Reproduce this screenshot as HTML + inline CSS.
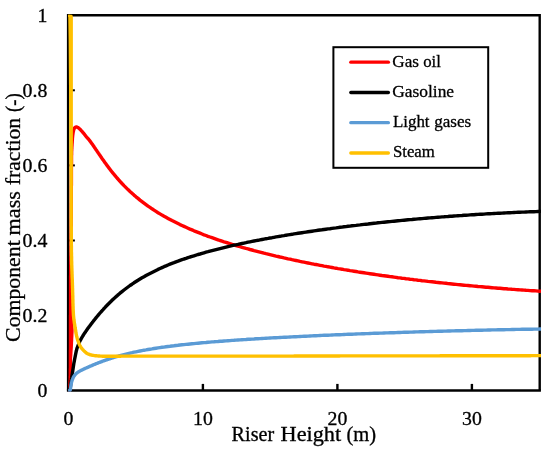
<!DOCTYPE html>
<html lang="en"><head><meta charset="utf-8"><title>Component mass fraction vs riser height</title>
<style>html,body{margin:0;padding:0;background:#fff}body{width:550px;height:451px;overflow:hidden}svg{display:block}text{font-family:"Liberation Serif",serif;fill:#000}</style></head><body>
<svg width="550" height="451" viewBox="0 0 550 451">
<rect width="550" height="451" fill="#fff"/>
<path d="M68.1,390.6 L68.1,15.25 L539.7,15.25 L539.7,390.6" fill="none" stroke="#000" stroke-width="2.4" stroke-linejoin="miter"/>
<path d="M66.9,390.55 L540.9,390.55" fill="none" stroke="#000" stroke-width="2.5"/>
<line x1="202.9" y1="390.6" x2="202.9" y2="383.9" stroke="#000" stroke-width="2.4"/>
<line x1="337.4" y1="390.6" x2="337.4" y2="383.9" stroke="#000" stroke-width="2.4"/>
<line x1="471.9" y1="390.6" x2="471.9" y2="383.9" stroke="#000" stroke-width="2.4"/>
<line x1="68.1" y1="315.5" x2="74.9" y2="315.5" stroke="#000" stroke-width="2"/>
<line x1="68.1" y1="240.5" x2="74.9" y2="240.5" stroke="#000" stroke-width="2"/>
<line x1="68.1" y1="165.4" x2="74.9" y2="165.4" stroke="#000" stroke-width="2"/>
<line x1="68.1" y1="90.3" x2="74.9" y2="90.3" stroke="#000" stroke-width="2"/>
<clipPath id="pc"><rect x="66.9" y="14.8" width="474.2" height="377"/></clipPath><g clip-path="url(#pc)">
<polygon points="69,300 71.6,300 73.7,330 73.0,345 71.8,362 70.4,380 69.5,389 69,389" fill="#ff0000"/>
<path d="M68.1,390.6 L68.7,390.5 L69.3,390.4 L69.6,390.2 L69.6,390.0 L69.7,389.8 L69.7,389.6 L69.7,389.4 L69.7,389.2 L69.8,388.9 L69.8,388.6 L69.8,388.4 L69.8,388.1 L69.9,387.7 L69.9,387.4 L69.9,387.1 L69.9,386.7 L69.9,386.4 L70.0,386.0 L70.0,385.6 L70.0,385.2 L70.0,384.8 L70.0,384.4 L70.1,383.9 L70.1,383.5 L70.1,383.0 L70.1,382.6 L70.1,382.1 L70.1,381.6 L70.1,381.1 L70.2,380.6 L70.2,380.1 L70.2,379.6 L70.2,379.1 L70.2,378.6 L70.2,378.0 L70.2,377.5 L70.2,377.0 L70.2,376.4 L70.3,375.9 L70.3,375.3 L70.3,374.7 L70.3,374.1 L70.3,373.6 L70.3,373.0 L70.3,372.4 L70.3,371.8 L70.3,371.2 L70.3,370.6 L70.3,370.0 L70.3,369.4 L70.3,368.8 L70.4,368.2 L70.4,367.6 L70.4,367.0 L70.4,366.4 L70.4,365.8 L70.4,365.2 L70.4,364.6 L70.4,364.0 L70.4,363.3 L70.4,362.7 L70.4,362.1 L70.4,361.5 L70.4,360.9 L70.4,360.3 L70.4,359.7 L70.4,359.1 L70.4,358.5 L70.4,358.0 L70.4,357.4 L70.4,356.8 L70.4,356.2 L70.4,355.7 L70.4,355.1 L70.4,354.5 L70.4,354.0 L70.4,353.4 L70.4,352.9 L70.4,352.3 L70.4,351.8 L70.4,351.3 L70.4,350.8 L70.4,350.3 L70.5,349.8 L70.5,349.3 L70.5,348.8 L70.5,348.3 L70.5,347.8 L70.5,347.3 L70.5,346.8 L70.5,346.3 L70.5,345.8 L70.5,345.3 L70.5,344.8 L70.5,344.3 L70.5,343.8 L70.5,343.3 L70.5,342.8 L70.5,342.3 L70.5,341.8 L70.5,341.3 L70.5,340.8 L70.5,340.3 L70.5,339.8 L70.5,339.3 L70.5,338.8 L70.5,338.3 L70.5,337.8 L70.5,337.3 L70.5,336.8 L70.5,336.3 L70.5,335.8 L70.5,335.3 L70.5,334.8 L70.5,334.3 L70.5,333.8 L70.5,333.3 L70.5,332.8 L70.5,332.3 L70.5,331.8 L70.5,331.3 L70.5,330.8 L70.5,330.3 L70.5,329.8 L70.5,329.3 L70.5,328.8 L70.5,328.3 L70.5,327.8 L70.5,327.3 L70.5,326.8 L70.5,326.3 L70.5,325.8 L70.5,325.3 L70.5,324.8 L70.5,324.3 L70.5,323.8 L70.5,323.3 L70.5,322.8 L70.5,322.3 L70.5,321.8 L70.5,321.3 L70.5,320.8 L70.5,320.3 L70.5,319.8 L70.5,319.3 L70.5,318.8 L70.5,318.3 L70.5,317.8 L70.5,317.3 L70.5,316.8 L70.5,316.3 L70.5,315.8 L70.5,315.3 L70.6,314.8 L70.6,314.3 L70.6,313.8 L70.6,313.3 L70.6,312.8 L70.6,312.3 L70.6,311.8 L70.6,311.3 L70.6,310.8 L70.6,310.3 L70.6,309.8 L70.6,309.3 L70.6,308.8 L70.6,308.3 L70.6,307.8 L70.6,307.3 L70.6,306.8 L70.6,306.3 L70.6,305.8 L70.6,305.3 L70.6,304.8 L70.6,304.3 L70.6,303.8 L70.6,303.3 L70.6,302.8 L70.6,302.3 L70.6,301.8 L70.6,301.3 L70.6,300.8 L70.6,300.3 L70.6,299.8 L70.6,299.3 L70.6,298.8 L70.6,298.3 L70.6,297.8 L70.6,297.3 L70.6,296.8 L70.6,296.3 L70.6,295.8 L70.6,295.3 L70.6,294.8 L70.6,294.3 L70.6,293.8 L70.6,293.3 L70.6,292.8 L70.6,292.3 L70.6,291.8 L70.6,291.3 L70.6,290.8 L70.6,290.3 L70.6,289.8 L70.6,289.3 L70.6,288.8 L70.6,288.3 L70.6,287.8 L70.6,287.3 L70.6,286.8 L70.6,286.3 L70.6,285.8 L70.6,285.3 L70.6,284.8 L70.6,284.3 L70.6,283.8 L70.6,283.3 L70.6,282.8 L70.6,282.3 L70.6,281.8 L70.6,281.3 L70.6,280.8 L70.6,280.3 L70.6,279.8 L70.6,279.3 L70.6,278.8 L70.6,278.3 L70.6,277.8 L70.6,277.3 L70.6,276.8 L70.6,276.3 L70.6,275.8 L70.7,275.3 L70.7,274.8 L70.7,274.3 L70.7,273.8 L70.7,273.3 L70.7,272.8 L70.7,272.3 L70.7,271.8 L70.7,271.3 L70.7,270.8 L70.7,270.3 L70.7,269.8 L70.7,269.3 L70.7,268.8 L70.7,268.3 L70.7,267.8 L70.7,267.3 L70.7,266.8 L70.7,266.3 L70.7,265.8 L70.7,265.3 L70.7,264.8 L70.8,264.3 L70.8,263.8 L70.8,263.3 L70.8,262.8 L70.8,262.3 L70.8,261.8 L70.8,261.3 L70.8,260.8 L70.8,260.3 L70.8,259.8 L70.8,259.3 L70.8,258.8 L70.8,258.3 L70.8,257.8 L70.8,257.3 L70.8,256.8 L70.8,256.3 L70.8,255.8 L70.9,255.3 L70.9,254.8 L70.9,254.3 L70.9,253.8 L70.9,253.3 L70.9,252.8 L70.9,252.3 L70.9,251.8 L70.9,251.3 L70.9,250.8 L70.9,250.3 L70.9,249.8 L70.9,249.3 L70.9,248.8 L70.9,248.3 L70.9,247.8 L70.9,247.3 L70.9,246.8 L70.9,246.3 L71.0,245.8 L71.0,245.3 L71.0,244.8 L71.0,244.3 L71.0,243.8 L71.0,243.3 L71.0,242.8 L71.0,242.3 L71.0,241.8 L71.0,241.3 L71.0,240.8 L71.0,240.3 L71.0,239.8 L71.0,239.3 L71.0,238.8 L71.0,238.3 L71.0,237.8 L71.0,237.3 L71.0,236.8 L71.0,236.3 L71.0,235.8 L71.0,235.3 L71.0,234.8 L71.0,234.3 L71.0,233.8 L71.0,233.3 L71.1,232.8 L71.1,232.3 L71.1,231.8 L71.1,231.3 L71.1,230.8 L71.1,230.3 L71.1,229.8 L71.1,229.3 L71.1,228.8 L71.1,228.3 L71.1,227.8 L71.1,227.3 L71.1,226.8 L71.1,226.3 L71.1,225.8 L71.1,225.3 L71.1,224.8 L71.1,224.3 L71.1,223.8 L71.1,223.3 L71.1,222.8 L71.1,222.3 L71.1,221.8 L71.1,221.3 L71.1,220.8 L71.1,220.3 L71.1,219.8 L71.1,219.3 L71.1,218.8 L71.2,218.3 L71.2,217.8 L71.2,217.3 L71.2,216.8 L71.2,216.3 L71.2,215.8 L71.2,215.3 L71.2,214.8 L71.2,214.3 L71.2,213.8 L71.2,213.3 L71.2,212.8 L71.2,212.3 L71.2,211.8 L71.2,211.3 L71.2,210.8 L71.2,210.3 L71.2,209.8 L71.2,209.3 L71.2,208.8 L71.2,208.3 L71.2,207.8 L71.2,207.3 L71.2,206.8 L71.2,206.3 L71.2,205.8 L71.2,205.3 L71.2,204.8 L71.2,204.3 L71.2,203.8 L71.2,203.3 L71.3,202.8 L71.3,202.3 L71.3,201.8 L71.3,201.3 L71.3,200.8 L71.3,200.3 L71.3,199.8 L71.3,199.3 L71.3,198.8 L71.3,198.3 L71.3,197.8 L71.3,197.3 L71.3,196.8 L71.3,196.3 L71.3,195.8 L71.3,195.3 L71.3,194.8 L71.3,194.3 L71.3,193.8 L71.3,193.3 L71.3,192.8 L71.3,192.3 L71.3,191.8 L71.3,191.3 L71.3,190.8 L71.3,190.3 L71.3,189.8 L71.3,189.3 L71.3,188.8 L71.3,188.3 L71.3,187.8 L71.3,187.3 L71.3,186.8 L71.3,186.3 L71.3,185.8 L71.4,185.3 L71.4,184.8 L71.4,184.3 L71.4,183.8 L71.4,183.3 L71.4,182.8 L71.4,182.3 L71.4,181.8 L71.4,181.3 L71.4,180.8 L71.4,180.3 L71.4,179.8 L71.4,179.3 L71.4,178.8 L71.4,178.3 L71.4,177.8 L71.4,177.3 L71.4,176.8 L71.4,176.3 L71.4,175.8 L71.4,175.3 L71.4,174.8 L71.4,174.3 L71.4,173.8 L71.4,173.3 L71.4,172.8 L71.4,172.3 L71.4,171.8 L71.4,171.3 L71.4,170.8 L71.4,170.3 L71.4,169.8 L71.4,169.3 L71.4,168.8 L71.4,168.3 L71.4,167.8 L71.4,167.3 L71.4,166.8 L71.4,166.3 L71.4,165.8 L71.4,165.3 L71.5,164.8 L71.5,164.3 L71.5,163.8 L71.5,163.3 L71.5,162.8 L71.5,162.3 L71.5,161.8 L71.5,161.3 L71.5,160.8 L71.5,160.3 L71.5,159.8 L71.5,159.3 L71.5,158.8 L71.5,158.3 L71.5,157.8 L71.5,157.3 L71.5,156.8 L71.5,156.3 L71.5,155.8 L71.5,155.3 L71.6,154.8 L71.6,154.3 L71.6,153.8 L71.6,153.3 L71.6,152.8 L71.6,152.3 L71.6,151.8 L71.6,151.3 L71.7,150.8 L71.7,150.3 L71.7,149.8 L71.7,149.3 L71.8,148.8 L71.8,148.3 L71.8,147.8 L71.8,147.3 L71.9,146.8 L71.9,146.3 L71.9,145.8 L72.0,145.3 L72.0,144.8 L72.0,144.3 L72.1,143.8 L72.1,143.3 L72.1,142.8 L72.2,142.3 L72.2,141.8 L72.2,141.3 L72.3,140.8 L72.3,140.3 L72.3,139.8 L72.4,139.3 L72.4,138.8 L72.4,138.3 L72.5,137.8 L72.5,137.3 L72.6,136.8 L72.6,136.3 L72.7,135.8 L72.7,135.3 L72.8,134.8 L72.9,134.3 L72.9,133.8 L73.0,133.3 L73.1,132.8 L73.2,132.3 L73.2,131.8 L73.3,131.3 L73.5,130.8 L73.6,130.3 L73.7,129.8 L73.9,129.4 L74.1,128.9 L74.3,128.5 L74.5,128.0 L74.9,127.6 L75.2,127.3 L75.7,127.1 L76.2,127.0 L76.7,127.0 L77.1,127.1 L77.6,127.4 L78.0,127.6 L78.4,127.9 L78.8,128.2 L79.2,128.5 L79.6,128.9 L79.9,129.2 L80.3,129.6 L80.7,129.9 L81.0,130.3 L81.3,130.7 L81.7,131.0 L82.0,131.4 L82.3,131.8 L82.7,132.2 L83.0,132.5 L83.3,132.9 L83.6,133.3 L84.0,133.7 L84.3,134.1 L84.6,134.5 L84.9,134.9 L85.2,135.3 L85.5,135.7 L85.8,136.1 L86.1,136.5 L86.4,136.9 L86.7,137.2 L87.1,137.6 L87.4,138.0 L87.7,138.3 L88.2,138.8 L88.7,139.4 L89.2,140.0 L89.7,140.7 L90.2,141.3 L90.7,142.0 L91.2,142.7 L91.7,143.4 L92.2,144.1 L92.7,144.8 L93.2,145.5 L93.7,146.2 L94.2,147.0 L94.7,147.7 L95.2,148.4 L95.7,149.2 L96.2,149.9 L96.7,150.6 L97.2,151.4 L97.7,152.1 L98.2,152.9 L98.7,153.6 L99.2,154.3 L99.7,155.1 L100.2,155.8 L100.7,156.5 L101.2,157.2 L101.7,158.0 L102.2,158.7 L102.7,159.4 L103.2,160.1 L103.7,160.8 L104.2,161.5 L104.7,162.2 L105.2,162.9 L105.7,163.6 L106.2,164.3 L106.7,165.0 L107.2,165.7 L107.7,166.3 L108.2,167.0 L108.7,167.7 L109.2,168.3 L109.7,169.0 L110.2,169.6 L110.7,170.3 L111.2,170.9 L111.7,171.6 L112.2,172.2 L112.7,172.8 L113.2,173.4 L113.7,174.0 L114.2,174.6 L114.7,175.2 L115.2,175.8 L115.7,176.4 L116.2,177.0 L116.7,177.6 L117.2,178.2 L117.7,178.8 L118.2,179.3 L118.7,179.9 L119.2,180.5 L119.7,181.0 L120.0,181.3 L122.0,183.5 L124.0,185.6 L126.0,187.6 L128.0,189.6 L130.0,191.5 L132.0,193.3 L134.0,195.1 L136.0,196.8 L138.0,198.4 L140.0,200.1 L142.0,201.6 L144.0,203.1 L146.0,204.6 L148.0,206.1 L150.0,207.4 L152.0,208.8 L154.0,210.1 L156.0,211.4 L158.0,212.7 L160.0,213.9 L162.0,215.1 L164.0,216.2 L166.0,217.3 L168.0,218.4 L170.0,219.5 L172.0,220.6 L174.0,221.6 L176.0,222.6 L178.0,223.6 L180.0,224.6 L182.0,225.5 L184.0,226.4 L186.0,227.3 L188.0,228.2 L190.0,229.1 L192.0,229.9 L194.0,230.8 L196.0,231.6 L198.0,232.4 L200.0,233.2 L202.0,234.0 L204.0,234.8 L206.0,235.5 L208.0,236.3 L210.0,237.0 L212.0,237.7 L214.0,238.4 L216.0,239.1 L218.0,239.8 L220.0,240.5 L222.0,241.1 L224.0,241.8 L226.0,242.4 L228.0,243.0 L230.0,243.7 L232.0,244.3 L234.0,244.9 L236.0,245.5 L238.0,246.1 L240.0,246.7 L242.0,247.3 L244.0,247.8 L246.0,248.4 L248.0,248.9 L250.0,249.5 L252.0,250.0 L254.0,250.6 L256.0,251.1 L258.0,251.6 L260.0,252.1 L262.0,252.6 L264.0,253.2 L266.0,253.7 L268.0,254.1 L270.0,254.6 L272.0,255.1 L274.0,255.6 L276.0,256.1 L278.0,256.5 L280.0,257.0 L282.0,257.4 L284.0,257.9 L286.0,258.3 L288.0,258.8 L290.0,259.2 L292.0,259.7 L294.0,260.1 L296.0,260.5 L298.0,260.9 L300.0,261.4 L302.0,261.8 L304.0,262.2 L306.0,262.6 L308.0,263.0 L310.0,263.4 L312.0,263.8 L314.0,264.2 L316.0,264.5 L318.0,264.9 L320.0,265.3 L322.0,265.7 L324.0,266.1 L326.0,266.4 L328.0,266.8 L330.0,267.1 L332.0,267.5 L334.0,267.9 L336.0,268.2 L338.0,268.6 L340.0,268.9 L342.0,269.2 L344.0,269.6 L346.0,269.9 L348.0,270.2 L350.0,270.6 L352.0,270.9 L354.0,271.2 L356.0,271.5 L358.0,271.9 L360.0,272.2 L362.0,272.5 L364.0,272.8 L366.0,273.1 L368.0,273.4 L370.0,273.7 L372.0,274.0 L374.0,274.3 L376.0,274.6 L378.0,274.9 L380.0,275.2 L382.0,275.5 L384.0,275.7 L386.0,276.0 L388.0,276.3 L390.0,276.6 L392.0,276.8 L394.0,277.1 L396.0,277.4 L398.0,277.7 L400.0,277.9 L402.0,278.2 L404.0,278.4 L406.0,278.7 L408.0,278.9 L410.0,279.2 L412.0,279.4 L414.0,279.7 L416.0,279.9 L418.0,280.2 L420.0,280.4 L422.0,280.7 L424.0,280.9 L426.0,281.1 L428.0,281.4 L430.0,281.6 L432.0,281.8 L434.0,282.0 L436.0,282.3 L438.0,282.5 L440.0,282.7 L442.0,282.9 L444.0,283.1 L446.0,283.3 L448.0,283.6 L450.0,283.8 L452.0,284.0 L454.0,284.2 L456.0,284.4 L458.0,284.6 L460.0,284.8 L462.0,285.0 L464.0,285.2 L466.0,285.4 L468.0,285.5 L470.0,285.7 L472.0,285.9 L474.0,286.1 L476.0,286.3 L478.0,286.5 L480.0,286.6 L482.0,286.8 L484.0,287.0 L486.0,287.2 L488.0,287.3 L490.0,287.5 L492.0,287.7 L494.0,287.9 L496.0,288.0 L498.0,288.2 L500.0,288.3 L502.0,288.5 L504.0,288.7 L506.0,288.8 L508.0,289.0 L510.0,289.1 L512.0,289.3 L514.0,289.4 L516.0,289.6 L518.0,289.7 L520.0,289.9 L522.0,290.0 L524.0,290.1 L526.0,290.3 L528.0,290.4 L530.0,290.6 L532.0,290.7 L534.0,290.8 L536.0,290.9 L538.0,291.1 L540.0,291.2 L541.0,291.3" fill="none" stroke="#ff0000" stroke-width="3.4" stroke-linejoin="round" stroke-linecap="butt"/>
<path d="M68.1,390.6 L69.0,390.0 L69.7,389.3 L70.0,388.6 L70.2,387.7 L70.4,386.7 L70.6,385.7 L70.7,384.7 L70.8,383.6 L70.9,382.5 L71.1,381.5 L71.2,380.5 L71.4,379.5 L71.5,378.5 L71.7,377.5 L71.8,376.5 L72.0,375.6 L72.1,374.6 L72.3,373.6 L72.4,372.6 L72.6,371.6 L72.8,370.6 L72.9,369.6 L73.1,368.6 L73.2,367.6 L73.4,366.7 L73.5,365.7 L73.7,364.7 L73.8,363.7 L74.0,362.7 L74.2,361.7 L74.4,360.7 L74.5,359.8 L74.7,358.8 L74.9,357.8 L75.1,356.8 L75.3,355.8 L75.5,354.9 L75.7,353.9 L75.9,352.9 L76.1,351.9 L76.3,350.9 L76.6,350.0 L76.8,349.0 L77.1,348.0 L77.5,347.1 L77.6,346.7 L78.1,345.3 L78.6,344.1 L79.1,342.9 L79.6,341.8 L80.1,340.8 L80.6,339.8 L81.1,338.9 L81.6,338.0 L82.1,337.1 L82.6,336.3 L83.1,335.5 L83.6,334.7 L84.1,333.9 L84.6,333.1 L85.1,332.4 L85.6,331.7 L86.1,330.9 L86.6,330.2 L87.1,329.5 L87.6,328.8 L88.1,328.1 L88.6,327.4 L89.1,326.7 L89.6,326.1 L90.1,325.4 L90.6,324.7 L91.1,324.1 L91.6,323.4 L92.1,322.8 L92.6,322.1 L93.1,321.5 L93.6,320.8 L94.1,320.2 L94.6,319.6 L95.1,318.9 L95.6,318.3 L96.1,317.7 L96.6,317.1 L97.1,316.5 L97.6,315.9 L98.1,315.3 L98.6,314.7 L99.1,314.1 L99.6,313.5 L100.1,312.9 L100.6,312.4 L101.1,311.8 L101.6,311.2 L102.1,310.7 L102.6,310.1 L103.1,309.6 L103.6,309.0 L104.1,308.5 L104.6,307.9 L105.1,307.4 L105.6,306.8 L106.1,306.3 L106.6,305.8 L107.1,305.3 L107.6,304.8 L108.1,304.2 L108.6,303.7 L109.1,303.2 L109.6,302.7 L110.1,302.2 L110.6,301.7 L111.1,301.3 L111.6,300.8 L112.1,300.3 L112.6,299.8 L113.1,299.3 L113.6,298.9 L114.1,298.4 L114.6,298.0 L115.1,297.5 L115.6,297.0 L116.1,296.6 L116.6,296.2 L117.1,295.7 L117.6,295.3 L118.1,294.8 L118.6,294.4 L119.1,294.0 L119.6,293.6 L120.0,293.2 L122.0,291.6 L124.0,290.0 L126.0,288.5 L128.0,287.0 L130.0,285.5 L132.0,284.2 L134.0,282.8 L136.0,281.5 L138.0,280.2 L140.0,279.0 L142.0,277.8 L144.0,276.7 L146.0,275.5 L148.0,274.4 L150.0,273.4 L152.0,272.4 L154.0,271.4 L156.0,270.4 L158.0,269.4 L160.0,268.5 L162.0,267.6 L164.0,266.7 L166.0,265.9 L168.0,265.0 L170.0,264.2 L172.0,263.4 L174.0,262.7 L176.0,261.9 L178.0,261.2 L180.0,260.4 L182.0,259.7 L184.0,259.0 L186.0,258.4 L188.0,257.7 L190.0,257.0 L192.0,256.4 L194.0,255.8 L196.0,255.2 L198.0,254.5 L200.0,254.0 L202.0,253.4 L204.0,252.8 L206.0,252.2 L208.0,251.7 L210.0,251.1 L212.0,250.6 L214.0,250.1 L216.0,249.6 L218.0,249.1 L220.0,248.6 L222.0,248.1 L224.0,247.6 L226.0,247.1 L228.0,246.6 L230.0,246.2 L232.0,245.7 L234.0,245.2 L236.0,244.8 L238.0,244.4 L240.0,243.9 L242.0,243.5 L244.0,243.1 L246.0,242.7 L248.0,242.2 L250.0,241.8 L252.0,241.4 L254.0,241.0 L256.0,240.6 L258.0,240.3 L260.0,239.9 L262.0,239.5 L264.0,239.1 L266.0,238.7 L268.0,238.4 L270.0,238.0 L272.0,237.7 L274.0,237.3 L276.0,236.9 L278.0,236.6 L280.0,236.3 L282.0,235.9 L284.0,235.6 L286.0,235.2 L288.0,234.9 L290.0,234.6 L292.0,234.3 L294.0,233.9 L296.0,233.6 L298.0,233.3 L300.0,233.0 L302.0,232.7 L304.0,232.4 L306.0,232.1 L308.0,231.8 L310.0,231.5 L312.0,231.2 L314.0,230.9 L316.0,230.6 L318.0,230.3 L320.0,230.0 L322.0,229.8 L324.0,229.5 L326.0,229.2 L328.0,228.9 L330.0,228.7 L332.0,228.4 L334.0,228.1 L336.0,227.9 L338.0,227.6 L340.0,227.3 L342.0,227.1 L344.0,226.8 L346.0,226.6 L348.0,226.3 L350.0,226.1 L352.0,225.8 L354.0,225.6 L356.0,225.4 L358.0,225.1 L360.0,224.9 L362.0,224.6 L364.0,224.4 L366.0,224.2 L368.0,224.0 L370.0,223.7 L372.0,223.5 L374.0,223.3 L376.0,223.1 L378.0,222.8 L380.0,222.6 L382.0,222.4 L384.0,222.2 L386.0,222.0 L388.0,221.8 L390.0,221.6 L392.0,221.4 L394.0,221.2 L396.0,221.0 L398.0,220.8 L400.0,220.6 L402.0,220.4 L404.0,220.2 L406.0,220.0 L408.0,219.8 L410.0,219.6 L412.0,219.5 L414.0,219.3 L416.0,219.1 L418.0,218.9 L420.0,218.7 L422.0,218.6 L424.0,218.4 L426.0,218.2 L428.0,218.0 L430.0,217.9 L432.0,217.7 L434.0,217.6 L436.0,217.4 L438.0,217.2 L440.0,217.1 L442.0,216.9 L444.0,216.8 L446.0,216.6 L448.0,216.5 L450.0,216.3 L452.0,216.2 L454.0,216.0 L456.0,215.9 L458.0,215.7 L460.0,215.6 L462.0,215.5 L464.0,215.3 L466.0,215.2 L468.0,215.1 L470.0,214.9 L472.0,214.8 L474.0,214.7 L476.0,214.5 L478.0,214.4 L480.0,214.3 L482.0,214.2 L484.0,214.1 L486.0,213.9 L488.0,213.8 L490.0,213.7 L492.0,213.6 L494.0,213.5 L496.0,213.4 L498.0,213.3 L500.0,213.2 L502.0,213.1 L504.0,213.0 L506.0,212.9 L508.0,212.8 L510.0,212.7 L512.0,212.6 L514.0,212.5 L516.0,212.4 L518.0,212.3 L520.0,212.2 L522.0,212.1 L524.0,212.1 L526.0,212.0 L528.0,211.9 L530.0,211.8 L532.0,211.7 L534.0,211.7 L536.0,211.6 L538.0,211.5 L540.0,211.4 L541.0,211.4" fill="none" stroke="#000000" stroke-width="3.4" stroke-linejoin="round" stroke-linecap="butt"/>
<path d="M68.1,390.6 L68.7,390.6 L69.3,390.5 L69.8,390.5 L70.0,390.4 L70.2,390.1 L70.3,389.6 L70.4,389.0 L70.5,388.4 L70.6,387.9 L70.7,387.4 L70.8,386.9 L70.8,386.4 L70.9,385.9 L71.0,385.4 L71.0,384.9 L71.1,384.4 L71.2,383.9 L71.3,383.4 L71.4,383.0 L71.5,382.5 L71.6,382.0 L71.7,381.8 L72.2,380.1 L72.7,378.8 L73.2,377.6 L73.7,376.7 L74.2,375.9 L74.7,375.2 L75.2,374.6 L75.7,374.0 L76.2,373.5 L76.7,373.1 L77.2,372.7 L77.7,372.4 L78.2,372.0 L78.7,371.7 L79.2,371.4 L79.7,371.1 L80.2,370.9 L80.7,370.6 L81.2,370.3 L81.7,370.1 L82.2,369.9 L82.7,369.6 L83.2,369.4 L83.7,369.1 L84.2,368.9 L84.7,368.7 L85.2,368.4 L85.7,368.2 L86.2,368.0 L86.7,367.8 L87.2,367.5 L87.7,367.3 L88.2,367.1 L88.7,366.9 L89.2,366.7 L89.7,366.4 L90.2,366.2 L90.7,366.0 L91.2,365.8 L91.7,365.6 L92.2,365.4 L92.7,365.2 L93.2,364.9 L93.7,364.7 L94.2,364.5 L94.7,364.3 L95.2,364.1 L95.7,363.9 L96.2,363.7 L96.7,363.5 L97.2,363.3 L97.7,363.1 L98.2,362.9 L98.7,362.7 L99.2,362.5 L99.7,362.3 L100.2,362.1 L100.7,361.9 L101.2,361.8 L101.7,361.6 L102.2,361.4 L102.7,361.2 L103.2,361.0 L103.7,360.8 L104.2,360.6 L104.7,360.5 L105.2,360.3 L105.7,360.1 L106.2,359.9 L106.7,359.8 L107.2,359.6 L107.7,359.4 L108.2,359.3 L108.7,359.1 L109.2,358.9 L109.7,358.8 L110.2,358.6 L110.7,358.4 L111.2,358.3 L111.7,358.1 L112.2,357.9 L112.7,357.8 L113.2,357.6 L113.7,357.5 L114.2,357.3 L114.7,357.2 L115.2,357.0 L115.7,356.9 L116.2,356.7 L116.7,356.6 L117.2,356.4 L117.7,356.3 L118.2,356.2 L118.7,356.0 L119.2,355.9 L119.7,355.7 L120.0,355.7 L122.0,355.1 L124.0,354.6 L126.0,354.1 L128.0,353.6 L130.0,353.1 L132.0,352.7 L134.0,352.2 L136.0,351.8 L138.0,351.4 L140.0,351.0 L142.0,350.6 L144.0,350.2 L146.0,349.9 L148.0,349.5 L150.0,349.2 L152.0,348.9 L154.0,348.5 L156.0,348.2 L158.0,347.9 L160.0,347.6 L162.0,347.3 L164.0,347.1 L166.0,346.8 L168.0,346.5 L170.0,346.3 L172.0,346.0 L174.0,345.8 L176.0,345.5 L178.0,345.3 L180.0,345.0 L182.0,344.8 L184.0,344.6 L186.0,344.4 L188.0,344.2 L190.0,344.0 L192.0,343.8 L194.0,343.6 L196.0,343.4 L198.0,343.2 L200.0,343.0 L202.0,342.8 L204.0,342.6 L206.0,342.5 L208.0,342.3 L210.0,342.1 L212.0,341.9 L214.0,341.8 L216.0,341.6 L218.0,341.5 L220.0,341.3 L222.0,341.2 L224.0,341.0 L226.0,340.9 L228.0,340.7 L230.0,340.6 L232.0,340.4 L234.0,340.3 L236.0,340.1 L238.0,340.0 L240.0,339.9 L242.0,339.7 L244.0,339.6 L246.0,339.5 L248.0,339.3 L250.0,339.2 L252.0,339.1 L254.0,339.0 L256.0,338.8 L258.0,338.7 L260.0,338.6 L262.0,338.5 L264.0,338.4 L266.0,338.2 L268.0,338.1 L270.0,338.0 L272.0,337.9 L274.0,337.8 L276.0,337.7 L278.0,337.6 L280.0,337.5 L282.0,337.4 L284.0,337.3 L286.0,337.2 L288.0,337.1 L290.0,337.0 L292.0,336.9 L294.0,336.8 L296.0,336.7 L298.0,336.6 L300.0,336.5 L302.0,336.4 L304.0,336.3 L306.0,336.2 L308.0,336.1 L310.0,336.0 L312.0,335.9 L314.0,335.8 L316.0,335.7 L318.0,335.6 L320.0,335.5 L322.0,335.4 L324.0,335.3 L326.0,335.3 L328.0,335.2 L330.0,335.1 L332.0,335.0 L334.0,334.9 L336.0,334.8 L338.0,334.7 L340.0,334.7 L342.0,334.6 L344.0,334.5 L346.0,334.4 L348.0,334.3 L350.0,334.3 L352.0,334.2 L354.0,334.1 L356.0,334.0 L358.0,333.9 L360.0,333.9 L362.0,333.8 L364.0,333.7 L366.0,333.6 L368.0,333.6 L370.0,333.5 L372.0,333.4 L374.0,333.3 L376.0,333.3 L378.0,333.2 L380.0,333.1 L382.0,333.1 L384.0,333.0 L386.0,332.9 L388.0,332.9 L390.0,332.8 L392.0,332.7 L394.0,332.7 L396.0,332.6 L398.0,332.5 L400.0,332.5 L402.0,332.4 L404.0,332.3 L406.0,332.3 L408.0,332.2 L410.0,332.1 L412.0,332.1 L414.0,332.0 L416.0,331.9 L418.0,331.9 L420.0,331.8 L422.0,331.8 L424.0,331.7 L426.0,331.6 L428.0,331.6 L430.0,331.5 L432.0,331.5 L434.0,331.4 L436.0,331.4 L438.0,331.3 L440.0,331.2 L442.0,331.2 L444.0,331.1 L446.0,331.1 L448.0,331.0 L450.0,331.0 L452.0,330.9 L454.0,330.9 L456.0,330.8 L458.0,330.8 L460.0,330.7 L462.0,330.7 L464.0,330.6 L466.0,330.6 L468.0,330.5 L470.0,330.5 L472.0,330.4 L474.0,330.4 L476.0,330.3 L478.0,330.3 L480.0,330.2 L482.0,330.2 L484.0,330.1 L486.0,330.1 L488.0,330.0 L490.0,330.0 L492.0,329.9 L494.0,329.9 L496.0,329.9 L498.0,329.8 L500.0,329.8 L502.0,329.7 L504.0,329.7 L506.0,329.6 L508.0,329.6 L510.0,329.6 L512.0,329.5 L514.0,329.5 L516.0,329.4 L518.0,329.4 L520.0,329.4 L522.0,329.3 L524.0,329.3 L526.0,329.3 L528.0,329.2 L530.0,329.2 L532.0,329.2 L534.0,329.1 L536.0,329.1 L538.0,329.1 L540.0,329.0 L541.0,329.0" fill="none" stroke="#5b9bd5" stroke-width="3.4" stroke-linejoin="round" stroke-linecap="butt"/>
<path d="M68.1,15.3 L69.3,15.3 L70.3,15.3 L70.8,15.6 L71.1,16.8 L71.2,17.7 L71.2,18.7 L71.2,19.7 L71.2,20.6 L71.2,21.6 L71.2,22.6 L71.2,23.5 L71.2,24.5 L71.2,25.5 L71.2,26.4 L71.2,27.4 L71.2,28.4 L71.2,29.4 L71.2,30.4 L71.2,31.3 L71.2,32.3 L71.2,33.3 L71.2,34.3 L71.2,35.3 L71.2,36.3 L71.2,37.3 L71.2,38.3 L71.2,39.2 L71.2,40.2 L71.2,41.2 L71.2,42.2 L71.2,43.2 L71.2,44.2 L71.2,45.2 L71.2,46.2 L71.2,47.2 L71.2,48.2 L71.2,49.2 L71.2,50.3 L71.2,51.3 L71.2,52.3 L71.2,53.3 L71.2,54.3 L71.2,55.3 L71.2,56.3 L71.2,57.3 L71.2,58.3 L71.2,59.3 L71.2,60.3 L71.2,61.4 L71.2,62.4 L71.2,63.4 L71.2,64.4 L71.2,65.4 L71.2,66.4 L71.2,67.4 L71.2,68.5 L71.2,69.5 L71.2,70.5 L71.2,71.5 L71.2,72.5 L71.2,73.5 L71.2,74.5 L71.2,75.6 L71.2,76.6 L71.2,77.6 L71.2,78.6 L71.2,79.6 L71.2,80.6 L71.2,81.6 L71.2,82.7 L71.2,83.7 L71.2,84.7 L71.2,85.7 L71.2,86.7 L71.2,87.7 L71.2,88.7 L71.2,89.7 L71.2,90.7 L71.2,91.7 L71.2,92.8 L71.2,93.8 L71.2,94.8 L71.2,95.8 L71.2,96.8 L71.2,97.8 L71.2,98.8 L71.2,99.8 L71.2,100.8 L71.2,101.8 L71.2,102.8 L71.2,103.8 L71.2,104.8 L71.2,105.8 L71.2,106.8 L71.2,107.8 L71.2,108.8 L71.2,109.8 L71.2,110.8 L71.2,111.8 L71.2,112.8 L71.2,113.8 L71.2,114.8 L71.2,115.8 L71.2,116.8 L71.2,117.8 L71.2,118.8 L71.2,119.8 L71.2,120.8 L71.2,121.8 L71.2,122.8 L71.2,123.8 L71.2,124.8 L71.2,125.8 L71.2,126.8 L71.2,127.8 L71.2,128.8 L71.2,129.8 L71.2,130.8 L71.2,131.8 L71.2,132.8 L71.2,133.8 L71.2,134.8 L71.2,135.8 L71.2,136.8 L71.2,137.8 L71.2,138.8 L71.2,139.8 L71.2,140.8 L71.2,141.8 L71.2,142.8 L71.2,143.8 L71.2,144.8 L71.2,145.8 L71.2,146.8 L71.2,147.8 L71.2,148.8 L71.2,149.8 L71.2,150.8 L71.2,151.8 L71.2,152.8 L71.2,153.8 L71.2,154.8 L71.2,155.8 L71.2,156.8 L71.2,157.8 L71.2,158.8 L71.2,159.8 L71.2,160.8 L71.2,161.8 L71.2,162.8 L71.2,163.8 L71.2,164.8 L71.2,165.8 L71.2,166.8 L71.2,167.8 L71.2,168.8 L71.2,169.8 L71.2,170.8 L71.2,171.8 L71.2,172.8 L71.2,173.8 L71.2,174.8 L71.2,175.8 L71.2,176.8 L71.2,177.8 L71.2,178.8 L71.2,179.8 L71.2,180.8 L71.2,181.8 L71.2,182.8 L71.2,183.8 L71.2,184.8 L71.2,185.8 L71.2,186.8 L71.2,187.8 L71.2,188.8 L71.2,189.8 L71.2,190.8 L71.2,191.8 L71.2,192.8 L71.2,193.8 L71.2,194.8 L71.2,195.8 L71.2,196.8 L71.2,197.8 L71.2,198.8 L71.2,199.8 L71.2,200.8 L71.2,201.8 L71.2,202.8 L71.2,203.8 L71.2,204.8 L71.2,205.8 L71.2,206.8 L71.2,207.8 L71.2,208.8 L71.2,209.8 L71.2,210.8 L71.2,211.8 L71.2,212.8 L71.2,213.8 L71.2,214.8 L71.2,215.8 L71.2,216.8 L71.2,217.8 L71.2,218.8 L71.2,219.8 L71.2,220.8 L71.2,221.8 L71.2,222.8 L71.2,223.8 L71.2,224.8 L71.2,225.8 L71.3,226.8 L71.3,227.8 L71.3,228.8 L71.3,229.8 L71.3,230.8 L71.3,231.8 L71.3,232.8 L71.3,233.8 L71.3,234.8 L71.3,235.8 L71.3,236.8 L71.3,237.8 L71.3,238.8 L71.3,239.8 L71.3,240.8 L71.3,241.8 L71.3,242.8 L71.3,243.8 L71.3,244.8 L71.4,245.8 L71.4,246.8 L71.4,247.8 L71.4,248.8 L71.4,249.8 L71.4,250.8 L71.4,251.8 L71.5,252.8 L71.5,253.8 L71.5,254.8 L71.5,255.8 L71.6,256.8 L71.6,257.8 L71.6,258.8 L71.6,259.8 L71.6,260.8 L71.7,261.8 L71.7,262.8 L71.7,263.8 L71.7,264.8 L71.8,265.8 L71.8,266.8 L71.8,267.8 L71.9,268.8 L71.9,269.8 L71.9,270.8 L72.0,271.8 L72.0,272.8 L72.0,273.8 L72.1,274.8 L72.1,275.8 L72.1,276.8 L72.2,277.8 L72.2,278.8 L72.3,279.8 L72.3,280.8 L72.3,281.8 L72.4,282.8 L72.4,283.8 L72.4,284.8 L72.5,285.8 L72.5,286.8 L72.5,287.8 L72.6,288.8 L72.6,289.8 L72.6,290.8 L72.6,291.8 L72.7,292.8 L72.7,293.8 L72.7,294.8 L72.8,295.8 L72.8,296.8 L72.8,297.8 L72.8,298.8 L72.9,299.8 L72.9,300.8 L72.9,301.8 L72.9,302.8 L73.0,303.8 L73.0,304.8 L73.0,305.8 L73.1,306.8 L73.1,307.8 L73.1,308.8 L73.2,309.8 L73.2,310.8 L73.3,311.8 L73.3,312.8 L73.4,313.8 L73.4,314.7 L73.5,315.7 L73.6,316.7 L73.7,317.7 L73.8,318.7 L73.9,319.7 L74.1,320.7 L74.2,321.7 L74.3,322.7 L74.5,323.7 L74.7,324.7 L74.8,325.7 L75.0,326.6 L75.1,327.6 L75.3,328.6 L75.5,329.6 L75.6,330.6 L75.8,331.6 L75.9,332.6 L76.1,333.6 L76.3,334.5 L76.5,335.5 L76.7,336.5 L77.0,337.5 L77.2,338.4 L77.5,339.4 L77.8,340.3 L78.2,341.3 L78.5,342.2 L78.8,343.2 L79.2,344.1 L79.6,345.0 L80.1,345.9 L80.6,346.8 L81.1,347.6 L81.7,348.4 L82.4,349.2 L83.1,349.9 L83.7,350.6 L84.5,351.4 L85.2,352.0 L86.0,352.7 L86.8,353.2 L87.7,353.7 L88.6,354.1 L89.5,354.5 L90.5,354.8 L91.5,355.0 L92.4,355.3 L93.4,355.4 L94.4,355.6 L95.4,355.7 L96.4,355.8 L97.4,355.9 L98.4,356.0 L99.4,356.0 L100.4,356.1 L101.4,356.1 L102.4,356.2 L103.4,356.2 L104.4,356.2 L105.4,356.2 L106.4,356.2 L107.4,356.2 L108.4,356.2 L109.4,356.2 L110.4,356.2 L111.4,356.2 L112.4,356.2 L113.4,356.2 L114.4,356.2 L115.4,356.2 L116.4,356.2 L117.4,356.2 L118.4,356.2 L119.4,356.2 L120.4,356.2 L121.4,356.1 L122.4,356.1 L123.4,356.1 L124.4,356.1 L125.4,356.1 L126.4,356.1 L127.4,356.1 L128.4,356.1 L129.4,356.1 L130.4,356.1 L131.4,356.1 L132.4,356.1 L133.4,356.1 L134.4,356.1 L135.4,356.1 L136.4,356.1 L137.4,356.1 L138.4,356.1 L139.4,356.1 L140.4,356.1 L141.4,356.1 L142.4,356.1 L143.4,356.1 L144.4,356.1 L145.4,356.1 L146.4,356.1 L147.4,356.1 L148.4,356.1 L149.4,356.1 L150.4,356.1 L151.4,356.1 L152.4,356.1 L153.4,356.1 L154.4,356.1 L155.4,356.1 L156.4,356.1 L157.4,356.1 L158.4,356.1 L159.4,356.1 L160.4,356.1 L161.4,356.1 L162.4,356.1 L163.4,356.1 L164.4,356.1 L165.4,356.1 L166.4,356.1 L167.4,356.1 L168.4,356.1 L169.4,356.1 L170.4,356.1 L171.4,356.1 L172.4,356.1 L173.4,356.1 L174.4,356.1 L175.4,356.1 L176.4,356.1 L177.4,356.1 L178.4,356.1 L179.4,356.1 L180.4,356.1 L181.4,356.1 L182.4,356.1 L183.4,356.1 L184.4,356.1 L185.4,356.1 L186.4,356.1 L187.4,356.1 L188.4,356.1 L189.4,356.1 L190.4,356.1 L191.4,356.1 L192.4,356.1 L193.4,356.1 L194.4,356.1 L195.4,356.1 L196.4,356.1 L197.4,356.1 L198.4,356.1 L199.4,356.1 L200.4,356.1 L201.4,356.1 L202.4,356.1 L203.4,356.1 L204.4,356.1 L205.4,356.1 L206.4,356.1 L207.4,356.1 L208.4,356.1 L209.4,356.1 L210.4,356.1 L211.4,356.1 L212.4,356.1 L213.4,356.1 L214.4,356.1 L215.4,356.1 L216.4,356.1 L217.4,356.1 L218.4,356.1 L219.4,356.1 L220.4,356.1 L221.4,356.1 L222.4,356.1 L223.4,356.1 L224.4,356.1 L225.4,356.1 L226.4,356.1 L227.4,356.1 L228.4,356.1 L229.4,356.1 L230.4,356.1 L231.4,356.1 L232.4,356.1 L233.4,356.1 L234.4,356.1 L235.4,356.1 L236.4,356.1 L237.4,356.1 L238.4,356.1 L239.4,356.1 L240.4,356.1 L241.4,356.1 L242.4,356.1 L243.4,356.1 L244.4,356.1 L245.4,356.1 L246.4,356.1 L247.4,356.1 L248.4,356.1 L249.4,356.1 L250.4,356.1 L251.4,356.1 L252.4,356.1 L253.4,356.1 L254.4,356.1 L255.4,356.1 L256.4,356.1 L257.4,356.1 L258.4,356.1 L259.4,356.1 L260.4,356.1 L261.4,356.1 L262.4,356.1 L263.4,356.1 L264.4,356.1 L265.4,356.1 L266.4,356.1 L267.4,356.1 L268.4,356.1 L269.4,356.1 L270.4,356.1 L271.4,356.1 L272.4,356.1 L273.4,356.1 L274.4,356.1 L275.4,356.1 L276.4,356.1 L277.4,356.1 L278.4,356.1 L279.4,356.1 L280.4,356.1 L281.4,356.1 L282.4,356.1 L283.4,356.1 L284.4,356.1 L285.4,356.1 L286.4,356.1 L287.4,356.1 L288.4,356.1 L289.4,356.1 L290.4,356.1 L291.4,356.1 L292.4,356.1 L293.4,356.1 L294.4,356.0 L295.4,356.0 L296.4,356.0 L297.4,356.0 L298.4,356.0 L299.4,356.0 L300.4,356.0 L301.4,356.0 L302.4,356.0 L303.4,356.0 L304.4,356.0 L305.4,356.0 L306.4,356.0 L307.4,356.0 L308.4,356.0 L309.4,356.0 L310.4,356.0 L311.4,356.0 L312.4,356.0 L313.4,356.0 L314.4,356.0 L315.4,356.0 L316.4,356.0 L317.4,356.0 L318.4,356.0 L319.4,356.0 L320.4,356.0 L321.4,356.0 L322.4,356.0 L323.4,356.0 L324.4,356.0 L325.4,356.0 L326.4,356.0 L327.4,356.0 L328.4,356.0 L329.4,356.0 L330.4,356.0 L331.4,356.0 L332.4,356.0 L333.4,356.0 L334.4,356.0 L335.4,356.0 L336.4,356.0 L337.4,356.0 L338.4,356.0 L339.4,356.0 L340.4,355.9 L341.4,355.9 L342.4,355.9 L343.4,355.9 L344.4,355.9 L345.4,355.9 L346.4,355.9 L347.4,355.9 L348.4,355.9 L349.4,355.9 L350.4,355.9 L351.4,355.9 L352.4,355.9 L353.4,355.9 L354.4,355.9 L355.4,355.9 L356.4,355.9 L357.4,355.9 L358.4,355.9 L359.4,355.9 L360.4,355.9 L361.4,355.9 L362.4,355.9 L363.4,355.9 L364.4,355.9 L365.4,355.9 L366.4,355.9 L367.4,355.9 L368.4,355.9 L369.4,355.9 L370.4,355.9 L371.4,355.9 L372.4,355.9 L373.4,355.9 L374.4,355.9 L375.4,355.9 L376.4,355.9 L377.4,355.9 L378.4,355.9 L379.4,355.9 L380.4,355.9 L381.4,355.9 L382.4,355.9 L383.4,355.9 L384.4,355.9 L385.4,355.9 L386.4,355.9 L387.4,355.9 L388.4,355.9 L389.4,355.9 L390.4,355.9 L391.4,355.9 L392.4,355.9 L393.4,355.9 L394.4,355.9 L395.4,355.9 L396.4,355.9 L397.4,355.9 L398.4,355.9 L399.4,355.9 L400.4,355.9 L401.4,355.9 L402.4,355.9 L403.4,355.9 L404.4,355.9 L405.4,355.9 L406.4,355.9 L407.4,355.9 L408.4,355.9 L409.4,355.9 L410.4,355.9 L411.4,355.9 L412.4,355.9 L413.4,355.9 L414.4,355.9 L415.4,355.9 L416.4,355.9 L417.4,355.9 L418.4,355.9 L419.4,355.9 L420.4,355.9 L421.4,355.9 L422.4,355.9 L423.4,355.9 L424.4,355.9 L425.4,355.9 L426.4,355.9 L427.4,355.9 L428.4,355.9 L429.4,355.9 L430.4,355.9 L431.4,355.9 L432.4,355.9 L433.4,355.9 L434.4,355.9 L435.4,355.9 L436.4,355.9 L437.4,355.9 L438.4,355.9 L439.4,355.9 L440.4,355.8 L441.4,355.8 L442.4,355.8 L443.4,355.8 L444.4,355.8 L445.4,355.8 L446.4,355.8 L447.4,355.8 L448.4,355.8 L449.4,355.8 L450.4,355.8 L451.4,355.8 L452.4,355.8 L453.4,355.8 L454.4,355.8 L455.4,355.8 L456.4,355.8 L457.4,355.8 L458.4,355.8 L459.4,355.8 L460.4,355.8 L461.4,355.8 L462.4,355.8 L463.4,355.8 L464.4,355.8 L465.4,355.8 L466.4,355.8 L467.4,355.8 L468.4,355.8 L469.4,355.8 L470.4,355.8 L471.4,355.8 L472.4,355.8 L473.4,355.8 L474.4,355.8 L475.4,355.8 L476.4,355.8 L477.4,355.8 L478.4,355.8 L479.4,355.8 L480.4,355.8 L481.4,355.8 L482.4,355.8 L483.4,355.8 L484.4,355.8 L485.4,355.8 L486.4,355.8 L487.4,355.8 L488.4,355.8 L489.4,355.8 L490.4,355.8 L491.4,355.8 L492.4,355.8 L493.4,355.8 L494.4,355.8 L495.4,355.8 L496.4,355.8 L497.4,355.8 L498.4,355.8 L499.4,355.8 L500.4,355.8 L501.4,355.8 L502.4,355.8 L503.4,355.8 L504.4,355.8 L505.4,355.8 L506.4,355.8 L507.4,355.8 L508.4,355.7 L509.4,355.7 L510.4,355.7 L511.4,355.7 L512.4,355.7 L513.4,355.7 L514.4,355.7 L515.4,355.7 L516.4,355.7 L517.4,355.7 L518.4,355.7 L519.4,355.7 L520.4,355.7 L521.4,355.7 L522.4,355.7 L523.4,355.7 L524.4,355.7 L525.4,355.7 L526.4,355.7 L527.4,355.7 L528.4,355.7 L529.4,355.7 L530.4,355.7 L531.4,355.6 L532.4,355.6 L533.4,355.6 L534.4,355.6 L535.4,355.6 L536.4,355.6 L537.4,355.6 L538.4,355.6 L539.4,355.6 L540.4,355.6 L541.0,355.6" fill="none" stroke="#ffc000" stroke-width="3.4" stroke-linejoin="round" stroke-linecap="butt"/>
<polygon points="68.2,14.1 70.2,14.1 70.2,175 69.7,175 68.6,40" fill="#ffc000"/></g>
<text x="47.4" y="396.9" font-size="18.7" text-anchor="end" textLength="9.9" lengthAdjust="spacingAndGlyphs" stroke="#000" stroke-width="0.3">0</text>
<text x="47.4" y="321.8" font-size="18.7" text-anchor="end" textLength="24.8" lengthAdjust="spacingAndGlyphs" stroke="#000" stroke-width="0.3">0.2</text>
<text x="47.4" y="246.8" font-size="18.7" text-anchor="end" textLength="24.8" lengthAdjust="spacingAndGlyphs" stroke="#000" stroke-width="0.3">0.4</text>
<text x="47.4" y="171.7" font-size="18.7" text-anchor="end" textLength="24.8" lengthAdjust="spacingAndGlyphs" stroke="#000" stroke-width="0.3">0.6</text>
<text x="47.4" y="96.6" font-size="18.7" text-anchor="end" textLength="24.8" lengthAdjust="spacingAndGlyphs" stroke="#000" stroke-width="0.3">0.8</text>
<text x="47.4" y="21.6" font-size="18.7" text-anchor="end" textLength="9.9" lengthAdjust="spacingAndGlyphs" stroke="#000" stroke-width="0.3">1</text>
<text x="68.4" y="425.2" font-size="18.7" text-anchor="middle" textLength="9.9" lengthAdjust="spacingAndGlyphs" stroke="#000" stroke-width="0.3">0</text>
<text x="202.9" y="425.2" font-size="18.7" text-anchor="middle" textLength="19.8" lengthAdjust="spacingAndGlyphs" stroke="#000" stroke-width="0.3">10</text>
<text x="337.4" y="425.2" font-size="18.7" text-anchor="middle" textLength="19.8" lengthAdjust="spacingAndGlyphs" stroke="#000" stroke-width="0.3">20</text>
<text x="471.9" y="425.2" font-size="18.7" text-anchor="middle" textLength="19.8" lengthAdjust="spacingAndGlyphs" stroke="#000" stroke-width="0.3">30</text>
<text y="440.7" font-size="20.4" stroke="#000" stroke-width="0.3"><tspan x="231.6" textLength="42.6" lengthAdjust="spacingAndGlyphs">Riser</tspan> <tspan x="280.6" textLength="60.6" lengthAdjust="spacingAndGlyphs">Height</tspan> <tspan x="346.4" textLength="29.7" lengthAdjust="spacingAndGlyphs">(m)</tspan></text>
<text transform="translate(20.4,0) rotate(-90)" y="0" font-size="20.4" stroke="#000" stroke-width="0.3"><tspan x="-341.9" textLength="101.6" lengthAdjust="spacingAndGlyphs">Component</tspan> <tspan x="-235.4" textLength="44.3" lengthAdjust="spacingAndGlyphs">mass</tspan> <tspan x="-185.3" textLength="67.5" lengthAdjust="spacingAndGlyphs">fraction</tspan> <tspan x="-112.0" textLength="18.9" lengthAdjust="spacingAndGlyphs">(-)</tspan></text>
<rect x="333.4" y="47.2" width="154.8" height="120.6" fill="#fff" stroke="#000" stroke-width="2"/>
<line x1="350.8" y1="62.2" x2="388.4" y2="62.2" stroke="#ff0000" stroke-width="3.3" stroke-linecap="round"/>
<text y="66.6" font-size="17" stroke="#000" stroke-width="0.3"><tspan x="392.3" textLength="26.7" lengthAdjust="spacingAndGlyphs">Gas</tspan> <tspan x="423.2" textLength="17.7" lengthAdjust="spacingAndGlyphs">oil</tspan></text>
<line x1="350.8" y1="92.5" x2="388.4" y2="92.5" stroke="#000000" stroke-width="3.3" stroke-linecap="round"/>
<text y="96.9" font-size="17" stroke="#000" stroke-width="0.3"><tspan x="392.3" textLength="61.8" lengthAdjust="spacingAndGlyphs">Gasoline</tspan></text>
<line x1="350.8" y1="122.7" x2="388.4" y2="122.7" stroke="#5b9bd5" stroke-width="3.3" stroke-linecap="round"/>
<text y="127.1" font-size="17" stroke="#000" stroke-width="0.3"><tspan x="392.9" textLength="36.7" lengthAdjust="spacingAndGlyphs">Light</tspan> <tspan x="434.2" textLength="37.0" lengthAdjust="spacingAndGlyphs">gases</tspan></text>
<line x1="350.8" y1="153" x2="388.4" y2="153" stroke="#ffc000" stroke-width="3.3" stroke-linecap="round"/>
<text y="157.4" font-size="17" stroke="#000" stroke-width="0.3"><tspan x="392.9" textLength="42.0" lengthAdjust="spacingAndGlyphs">Steam</tspan></text>
</svg></body></html>
